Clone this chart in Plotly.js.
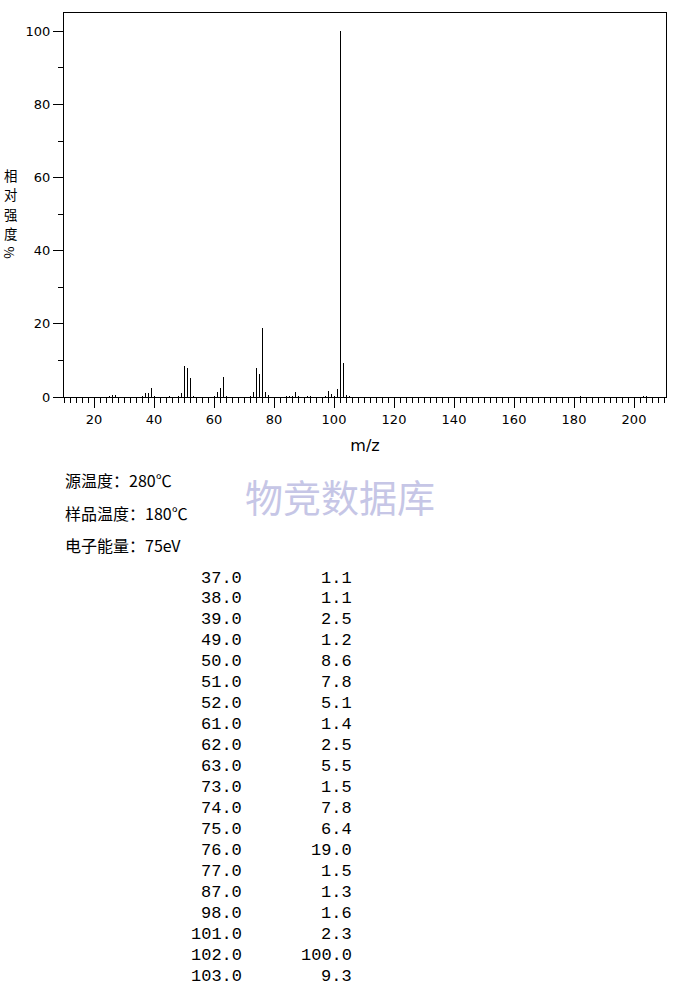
<!DOCTYPE html>
<html><head><meta charset="utf-8">
<script src="https://cdn.plot.ly/plotly-3.0.1.min.js"></script>
<style>html,body{margin:0;padding:0;background:#fff}#chart{width:680px;height:992px}
#chart .scatterlayer path.js-line{shape-rendering:crispEdges}</style>
</head><body><div id="chart"></div>
<script>
// Tabulated peaks (m/z, relative intensity %)
const peakMz  = [37, 38, 39, 49, 50, 51, 52, 61, 62, 63, 73, 74, 75, 76, 77, 87, 98, 101, 102, 103];
const peakInt = [1.1, 1.1, 2.5, 1.2, 8.6, 7.8, 5.1, 1.4, 2.5, 5.5, 1.5, 7.8, 6.4, 19.0, 1.5, 1.3, 1.6, 2.3, 100.0, 9.3];
// Small untabulated peaks
const minorMz  = [25, 26, 27, 36, 40, 45, 48, 53, 60, 64, 72, 78, 84, 85, 86, 88, 91, 92, 97, 99, 100, 104, 105, 182, 203, 204];
const minorInt = [0.4, 0.65, 0.65, 0.3, 0.4, 0.3, 0.4, 0.4, 0.3, 0.4, 0.4, 0.5, 0.4, 0.4, 0.4, 0.4, 0.4, 0.4, 0.4, 0.7, 0.4, 0.6, 0.4, 0.3, 0.3, 0.3];
const infoLines = ['源温度：280℃', '样品温度：180℃', '电子能量：75eV'];
const yLabelChars = ['相', '对', '强', '度', '%'];
const xTitle = 'm/z';
const watermark = '物竞数据库';

// plot area geometry (pixels)
const W = 680, H = 992, L = 64, R = 14, T = 13, B = 595;
const PW = W - L - R, PH = H - T - B;
const px = x => (x - L) / PW;
const py = y => (T + PH - y) / PH;

const allMz = peakMz.concat(minorMz);
const allInt = peakInt.concat(minorInt);
const xs = [], ys = [];
allMz.forEach((m, i) => { xs.push(m, m, null); ys.push(0, allInt[i], null); });

const ann = [];
yLabelChars.forEach((c, i) => ann.push({
  xref: 'paper', yref: 'paper', x: px(10), y: py(174.5 + i * 19.5), xanchor: 'center', yanchor: 'middle',
  text: c, showarrow: false, borderpad: 0, textangle: c === '%' ? 90 : 0,
  font: {family: 'Noto Sans CJK SC', size: 13.4, color: '#000'}
}));
const infoY = [480, 513, 545];
infoLines.forEach((t, i) => ann.push({
  xref: 'paper', yref: 'paper', x: px(63), y: py(infoY[i]), xanchor: 'left', yanchor: 'middle',
  text: t, showarrow: false, font: {family: 'Noto Sans CJK SC', size: 16, color: '#000'}
}));
ann.push({
  xref: 'paper', yref: 'paper', x: px(340), y: py(495), xanchor: 'center', yanchor: 'middle',
  text: watermark, showarrow: false, font: {family: 'Noto Sans CJK SC', size: 38, color: 'rgb(198,198,230)'}
});
peakMz.forEach((m, i) => {
  const yy = py(578 + i * 20.95);
  ann.push({xref: 'paper', yref: 'paper', x: px(244), y: yy, xanchor: 'right', yanchor: 'middle',
    text: m.toFixed(1), showarrow: false, font: {family: 'Liberation Mono', size: 17, color: '#000'}});
  ann.push({xref: 'paper', yref: 'paper', x: px(354), y: yy, xanchor: 'right', yanchor: 'middle',
    text: peakInt[i].toFixed(1), showarrow: false, font: {family: 'Liberation Mono', size: 17, color: '#000'}});
});

const tickFont = {family: 'DejaVu Sans', size: 13, color: '#000'};
const layout = {
  width: W, height: H,
  margin: {l: L, r: R, t: T, b: B},
  paper_bgcolor: '#fff', plot_bgcolor: '#fff',
  showlegend: false,
  xaxis: {
    range: [10, 10 + PW / 3], showline: true, linecolor: '#000', linewidth: 1, mirror: true,
    ticks: 'outside', ticklen: 10, tickwidth: 1, tickcolor: '#000', tick0: 0, dtick: 20,
    minor: {dtick: 2, ticklen: 5, tickwidth: 1, tickcolor: '#000', ticks: 'outside', showgrid: false},
    showgrid: false, zeroline: false, tickfont: tickFont,
    title: {text: xTitle, font: {family: 'DejaVu Sans', size: 16, color: '#000'}, standoff: 14}
  },
  yaxis: {
    range: [0, 105], showline: true, linecolor: '#000', linewidth: 1, mirror: true,
    ticks: 'outside', ticklen: 10, tickwidth: 1, tickcolor: '#000', tick0: 0, dtick: 20,
    minor: {dtick: 10, ticklen: 5, tickwidth: 1, tickcolor: '#000', ticks: 'outside', showgrid: false},
    showgrid: false, zeroline: false, tickfont: tickFont
  },
  annotations: ann
};
Plotly.newPlot('chart', [{
  type: 'scatter', mode: 'lines', x: xs, y: ys, connectgaps: false,
  line: {color: '#000', width: 1}, hoverinfo: 'skip'
}], layout, {staticPlot: true, displayModeBar: false});
</script></body></html>
